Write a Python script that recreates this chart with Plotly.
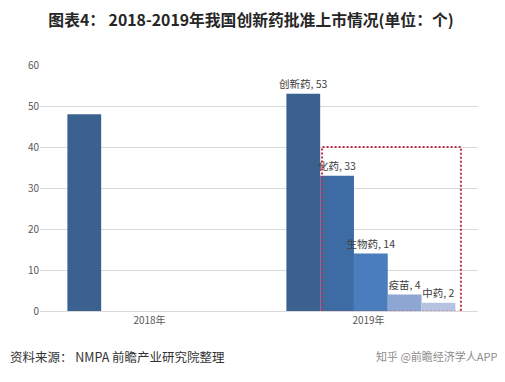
import plotly.graph_objects as go

years = ["2018年", "2019年"]
series = ["创新药", "化药", "生物药", "疫苗", "中药"]
values = {
    "创新药": [48, 53],
    "化药": [None, 33],
    "生物药": [None, 14],
    "疫苗": [None, 4],
    "中药": [None, 2],
}
colors = ["#3b6190", "#3d6ca5", "#4a7dbd", "#8ea6d2", "#b5c3e0"]
y_ticks = [0, 10, 20, 30, 40, 50, 60]

BAR_W = 0.1543
GROUP_START = -0.375

fig = go.Figure()
for i, (name, col) in enumerate(zip(series, colors)):
    vals = values[name]
    texts = ["" if (j == 0 or v is None) else f"{name}, {v}" for j, v in enumerate(vals)]
    fig.add_trace(go.Bar(
        x=years, y=vals, name=name, marker=dict(color=col, line=dict(width=0)),
        width=BAR_W, offset=GROUP_START + BAR_W * i,
        text=texts, textposition="outside", cliponaxis=False, constraintext="none",
        textfont=dict(size=10.5, color="#404040", family="Noto Sans CJK SC"),
    ))

fig.add_shape(type="rect", xref="paper", yref="y", x0=0.644, x1=0.961, y0=-0.2, y1=40,
              line=dict(color="#c0304a", width=2, dash="2px,2px"), fillcolor="rgba(0,0,0,0)",
              layer="above")

fig.update_layout(
    width=497, height=374,
    margin=dict(l=32, r=27, t=57, b=71, autoexpand=False),
    plot_bgcolor="white", paper_bgcolor="white",
    barmode="overlay",
    showlegend=False,
    font=dict(family="Noto Sans CJK SC", color="#595959", size=10),
    title=dict(text="<b>图表4： 2018-2019年我国创新药批准上市情况(单位：个)</b>",
               x=0.489, xref="container", xanchor="center", y=0.966, yref="container",
               yanchor="middle",
               font=dict(size=15.8, color="#262626", family="Noto Sans CJK SC")),
    xaxis=dict(showgrid=False, showline=True, linecolor="#d9d9d9", ticks="",
               tickfont=dict(size=10, color="#595959")),
    yaxis=dict(range=[0, 60], tickvals=y_ticks, showgrid=True, gridcolor="#d9d9d9",
               zeroline=False, showline=False, ticks="", ticklen=0,
               tickfont=dict(size=10, color="#595959")),
)

fig.add_annotation(text="资料来源： NMPA 前瞻产业研究院整理", xref="paper", yref="paper",
                   x=-0.073, y=-0.183, xanchor="left", yanchor="middle", showarrow=False,
                   font=dict(size=12.5, color="#333333", family="Noto Sans CJK SC"))
fig.add_annotation(text="知乎 @前瞻经济学人APP", xref="paper", yref="paper",
                   x=1.05, y=-0.183, xanchor="right", yanchor="middle", showarrow=False,
                   font=dict(size=11, color="#8c8c8c", family="Noto Sans CJK SC"))

fig.write_html("out.html")
